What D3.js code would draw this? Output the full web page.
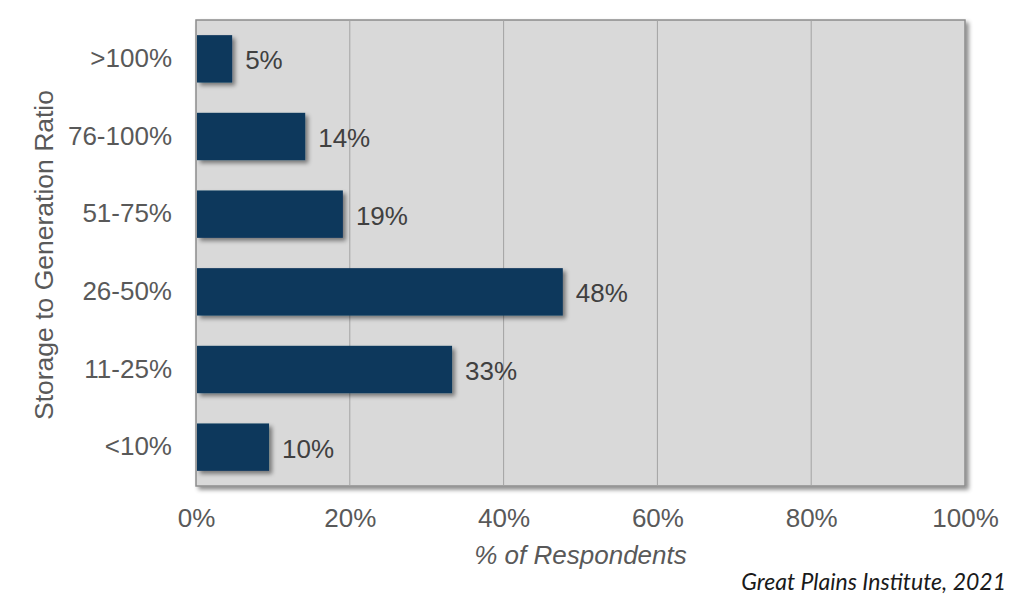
<!DOCTYPE html>
<html>
<head>
<meta charset="utf-8">
<script src="https://cdn.jsdelivr.net/npm/d3@7"></script>
<style>
  body { margin: 0; background: #fff; }
  svg { display: block; font-family: "Liberation Sans", Arial, sans-serif; }
</style>
</head>
<body>
<script>
var categories = [">100%", "76-100%", "51-75%", "26-50%", "11-25%", "<10%"];
var values = [4.7, 14.2, 19.1, 47.7, 33.3, 9.5];
var labels = ["5%", "14%", "19%", "48%", "33%", "10%"];
var ticks = [0, 20, 40, 60, 80, 100];

var width = 1024, height = 598;
var plotLeft = 196, plotRight = 965, plotTop = 20, plotBottom = 486;

var svg = d3.select("body").append("svg").attr("width", width).attr("height", height);

var defs = svg.append("defs");
var f = defs.append("filter").attr("id", "shadow").attr("x", "-10%").attr("y", "-10%").attr("width", "130%").attr("height", "140%");
f.append("feDropShadow").attr("dx", 3).attr("dy", 3).attr("stdDeviation", 2)
  .attr("flood-color", "#000").attr("flood-opacity", 0.45);

var x = d3.scaleLinear().domain([0, 100]).range([plotLeft, plotRight]);
var y = d3.scaleBand().domain(categories).range([plotTop, plotBottom]).paddingInner(0.39).paddingOuter(0.195);

// plot area
svg.append("rect")
  .attr("x", plotLeft).attr("y", plotTop).attr("width", plotRight - plotLeft).attr("height", plotBottom - plotTop)
  .attr("fill", "#d9d9d9").attr("stroke", "#8c8c8c").attr("stroke-width", 1.5)
  .attr("filter", "url(#shadow)");

// gridlines
svg.append("g").selectAll("line")
  .data(ticks.slice(1, -1))
  .enter().append("line")
    .attr("x1", function(d){ return x(d); })
    .attr("x2", function(d){ return x(d); })
    .attr("y1", plotTop).attr("y2", plotBottom)
    .attr("stroke", "#a3a3a3").attr("stroke-width", 1);

// bars
svg.append("g").selectAll("rect")
  .data(values)
  .enter().append("rect")
    .attr("x", x(0) + 1)
    .attr("y", function(d, i){ return y(categories[i]); })
    .attr("width", function(d){ return x(d) - x(0) - 1; })
    .attr("height", y.bandwidth())
    .attr("fill", "#0c375c")
    .attr("filter", "url(#shadow)");

// data labels
svg.append("g").selectAll("text")
  .data(values)
  .enter().append("text")
    .attr("x", function(d){ return x(d) + 13; })
    .attr("y", function(d, i){ return y(categories[i]) + y.bandwidth() / 2 + 1; })
    .attr("dy", "0.36em")
    .attr("font-size", 26)
    .attr("fill", "#404040")
    .text(function(d, i){ return labels[i]; });

// x axis
var xAxis = svg.append("g")
  .attr("transform", "translate(0," + plotBottom + ")")
  .call(d3.axisBottom(x).tickValues(ticks).tickFormat(function(d){ return d + "%"; }).tickSize(0).tickPadding(23));
xAxis.select(".domain").remove();
xAxis.selectAll("text").attr("font-size", 26).attr("fill", "#595959").attr("font-family", "Liberation Sans, Arial, sans-serif");

// y axis
var yAxis = svg.append("g")
  .attr("transform", "translate(" + plotLeft + ",0)")
  .call(d3.axisLeft(y).tickSize(0).tickPadding(24));
yAxis.select(".domain").remove();
yAxis.selectAll("text").attr("font-size", 26).attr("fill", "#595959").attr("font-family", "Liberation Sans, Arial, sans-serif");

// axis titles
svg.append("text")
  .attr("x", (plotLeft + plotRight) / 2).attr("y", 564)
  .attr("text-anchor", "middle")
  .attr("font-size", 26).attr("font-style", "italic").attr("fill", "#595959")
  .text("% of Respondents");

svg.append("text")
  .attr("transform", "translate(53," + ((plotTop + plotBottom) / 2 + 2) + ") rotate(-90)")
  .attr("text-anchor", "middle")
  .attr("font-size", 26.5).attr("fill", "#595959")
  .text("Storage to Generation Ratio");

// source
svg.append("text")
  .attr("x", 1006).attr("y", 590)
  .attr("text-anchor", "end")
  .attr("font-family", "Lato, sans-serif")
  .attr("font-size", 23).attr("font-style", "italic").attr("fill", "#1a1a1a")
  .text("Great Plains Institute, 2021");
</script>
</body>
</html>
